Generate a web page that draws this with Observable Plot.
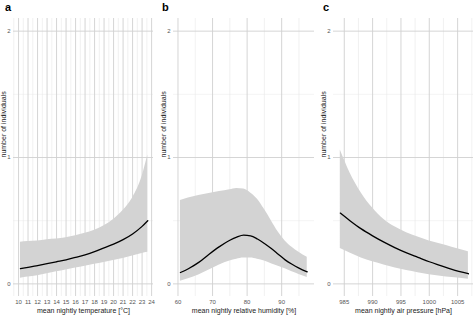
<!DOCTYPE html>
<html>
<head>
<meta charset="utf-8">
<script src="https://cdn.jsdelivr.net/npm/d3@7"></script>
<script src="https://cdn.jsdelivr.net/npm/@observablehq/plot@0.6"></script>
<style>
  body { margin: 0; background: #fff; }
  #wrap { position: relative; width: 474px; height: 315px; overflow: hidden; font-family: "Liberation Sans", Arial, sans-serif; }
  .panel { position: absolute; top: 0; }
  .tag { position: absolute; top: 1px; font-weight: bold; font-size: 11px; color: #000; }
</style>
</head>
<body>
<div id="wrap"></div>
<script>
// a: mean nightly temperature
const tempX   = [10.2, 11, 12, 13, 14, 15, 16, 17, 18, 19, 20, 21, 22, 23, 23.6];
const tempFit = [0.12, 0.13, 0.145, 0.16, 0.175, 0.19, 0.21, 0.23, 0.255, 0.285, 0.315, 0.35, 0.395, 0.455, 0.50];
const tempLo  = [0.045, 0.055, 0.065, 0.08, 0.095, 0.11, 0.125, 0.14, 0.155, 0.17, 0.185, 0.20, 0.22, 0.24, 0.25];
const tempHi  = [0.33, 0.335, 0.34, 0.35, 0.355, 0.365, 0.38, 0.40, 0.425, 0.46, 0.51, 0.58, 0.68, 0.85, 1.02];
const tempTicks = [10, 11, 12, 13, 14, 15, 16, 17, 18, 19, 20, 21, 22, 23, 24];
const tempMinor = [9.5, 10.5, 11.5, 12.5, 13.5, 14.5, 15.5, 16.5, 17.5, 18.5, 19.5, 20.5, 21.5, 22.5, 23.5];

// b: mean nightly relative humidity
const humX   = [60.7, 63, 66, 69, 72, 75, 77, 79, 81, 83, 85, 87, 89, 91, 93, 95, 97.4];
const humFit = [0.09, 0.12, 0.17, 0.235, 0.295, 0.345, 0.37, 0.385, 0.38, 0.355, 0.32, 0.28, 0.235, 0.19, 0.155, 0.125, 0.095];
const humLo  = [0.02, 0.04, 0.07, 0.11, 0.15, 0.18, 0.195, 0.205, 0.205, 0.195, 0.18, 0.16, 0.14, 0.12, 0.095, 0.075, 0.05];
const humHi  = [0.66, 0.68, 0.70, 0.715, 0.73, 0.745, 0.755, 0.75, 0.72, 0.67, 0.59, 0.50, 0.41, 0.34, 0.29, 0.25, 0.21];
const humTicks = [60, 70, 80, 90];
const humMinor = [65, 75, 85, 95];

// c: mean nightly air pressure
const presX   = [984.3, 986, 988, 990, 992, 994, 996, 998, 1000, 1002, 1004, 1006.9];
const presFit = [0.56, 0.50, 0.435, 0.38, 0.33, 0.285, 0.245, 0.21, 0.175, 0.145, 0.115, 0.08];
const presLo  = [0.28, 0.245, 0.205, 0.175, 0.15, 0.125, 0.105, 0.088, 0.073, 0.06, 0.05, 0.037];
const presHi  = [1.06, 0.88, 0.72, 0.60, 0.51, 0.45, 0.405, 0.37, 0.34, 0.315, 0.29, 0.255];
const presTicks = [985, 990, 995, 1000, 1005];
const presMinor = [987.5, 992.5, 997.5, 1002.5, 1007.5];

const yTicks = [0, 1, 2];
const yMinor = [0.5, 1.5];
const yTitle = "number of individuals";

const font = '"Liberation Sans", Arial, sans-serif';

function panel({tag, xs, fit, lo, hi, domain, ticks, minor, title, left, width, marginLeft, marginRight, tagLeft}) {
  const rows = xs.map((x, i) => ({x, fit: fit[i], lo: lo[i], hi: hi[i]}));
  const chart = Plot.plot({
    width, height: 315,
    marginTop: 18, marginBottom: 19, marginLeft, marginRight,
    style: {fontFamily: font, fontSize: "6px", color: "#555", background: "transparent", overflow: "visible"},
    x: {domain, label: null},
    y: {domain: [-0.1, 2.1], label: null},
    marks: [
      Plot.ruleY(yMinor, {stroke: "#ececec", strokeWidth: 0.6}),
      Plot.ruleX(minor, {stroke: "#e8e8e8", strokeWidth: 0.6}),
      Plot.ruleY(yTicks, {stroke: "#d0d0d0", strokeWidth: 0.9}),
      Plot.ruleX(ticks, {stroke: "#d0d0d0", strokeWidth: 0.9}),
      Plot.areaY(rows, {x: "x", y1: "lo", y2: "hi", fill: "#d3d3d3", curve: "monotone-x"}),
      Plot.lineY(rows, {x: "x", y: "fit", stroke: "#000", strokeWidth: 1.3, curve: "monotone-x"}),
      Plot.axisX({ticks, tickSize: 0, tickPadding: 3, tickFormat: d => String(d), label: null}),
      Plot.axisY({ticks: yTicks, tickSize: 0, tickPadding: 3, tickFormat: d => String(d), label: null}),
      Plot.text([title], {frameAnchor: "bottom", dy: 16, fontSize: 7, fill: "#222"}),
      Plot.text([yTitle], {frameAnchor: "left", rotate: -90, dx: -10, fontSize: 7, fill: "#222"})
    ]
  });
  chart.classList.add("panel");
  chart.style.left = left + "px";
  const wrap = document.getElementById("wrap");
  wrap.appendChild(chart);
  const t = document.createElement("div");
  t.className = "tag";
  t.textContent = tag;
  t.style.left = tagLeft + "px";
  wrap.appendChild(t);
}

panel({tag: "a", xs: tempX, fit: tempFit, lo: tempLo, hi: tempHi, domain: [9.47, 24.2],
  ticks: tempTicks, minor: tempMinor, title: "mean nightly temperature [°C]",
  left: 0, width: 158, marginLeft: 13, marginRight: 5, tagLeft: 5});
panel({tag: "b", xs: humX, fit: humFit, lo: humLo, hi: humHi, domain: [58.7, 99.5],
  ticks: humTicks, minor: humMinor, title: "mean nightly relative humidity [%]",
  left: 158, width: 160, marginLeft: 15, marginRight: 4, tagLeft: 162});
panel({tag: "c", xs: presX, fit: presFit, lo: presLo, hi: presHi, domain: [983.1, 1007.8],
  ticks: presTicks, minor: presMinor, title: "mean nightly air pressure [hPa]",
  left: 318, width: 156, marginLeft: 15, marginRight: 1, tagLeft: 323});
</script>
</body>
</html>
